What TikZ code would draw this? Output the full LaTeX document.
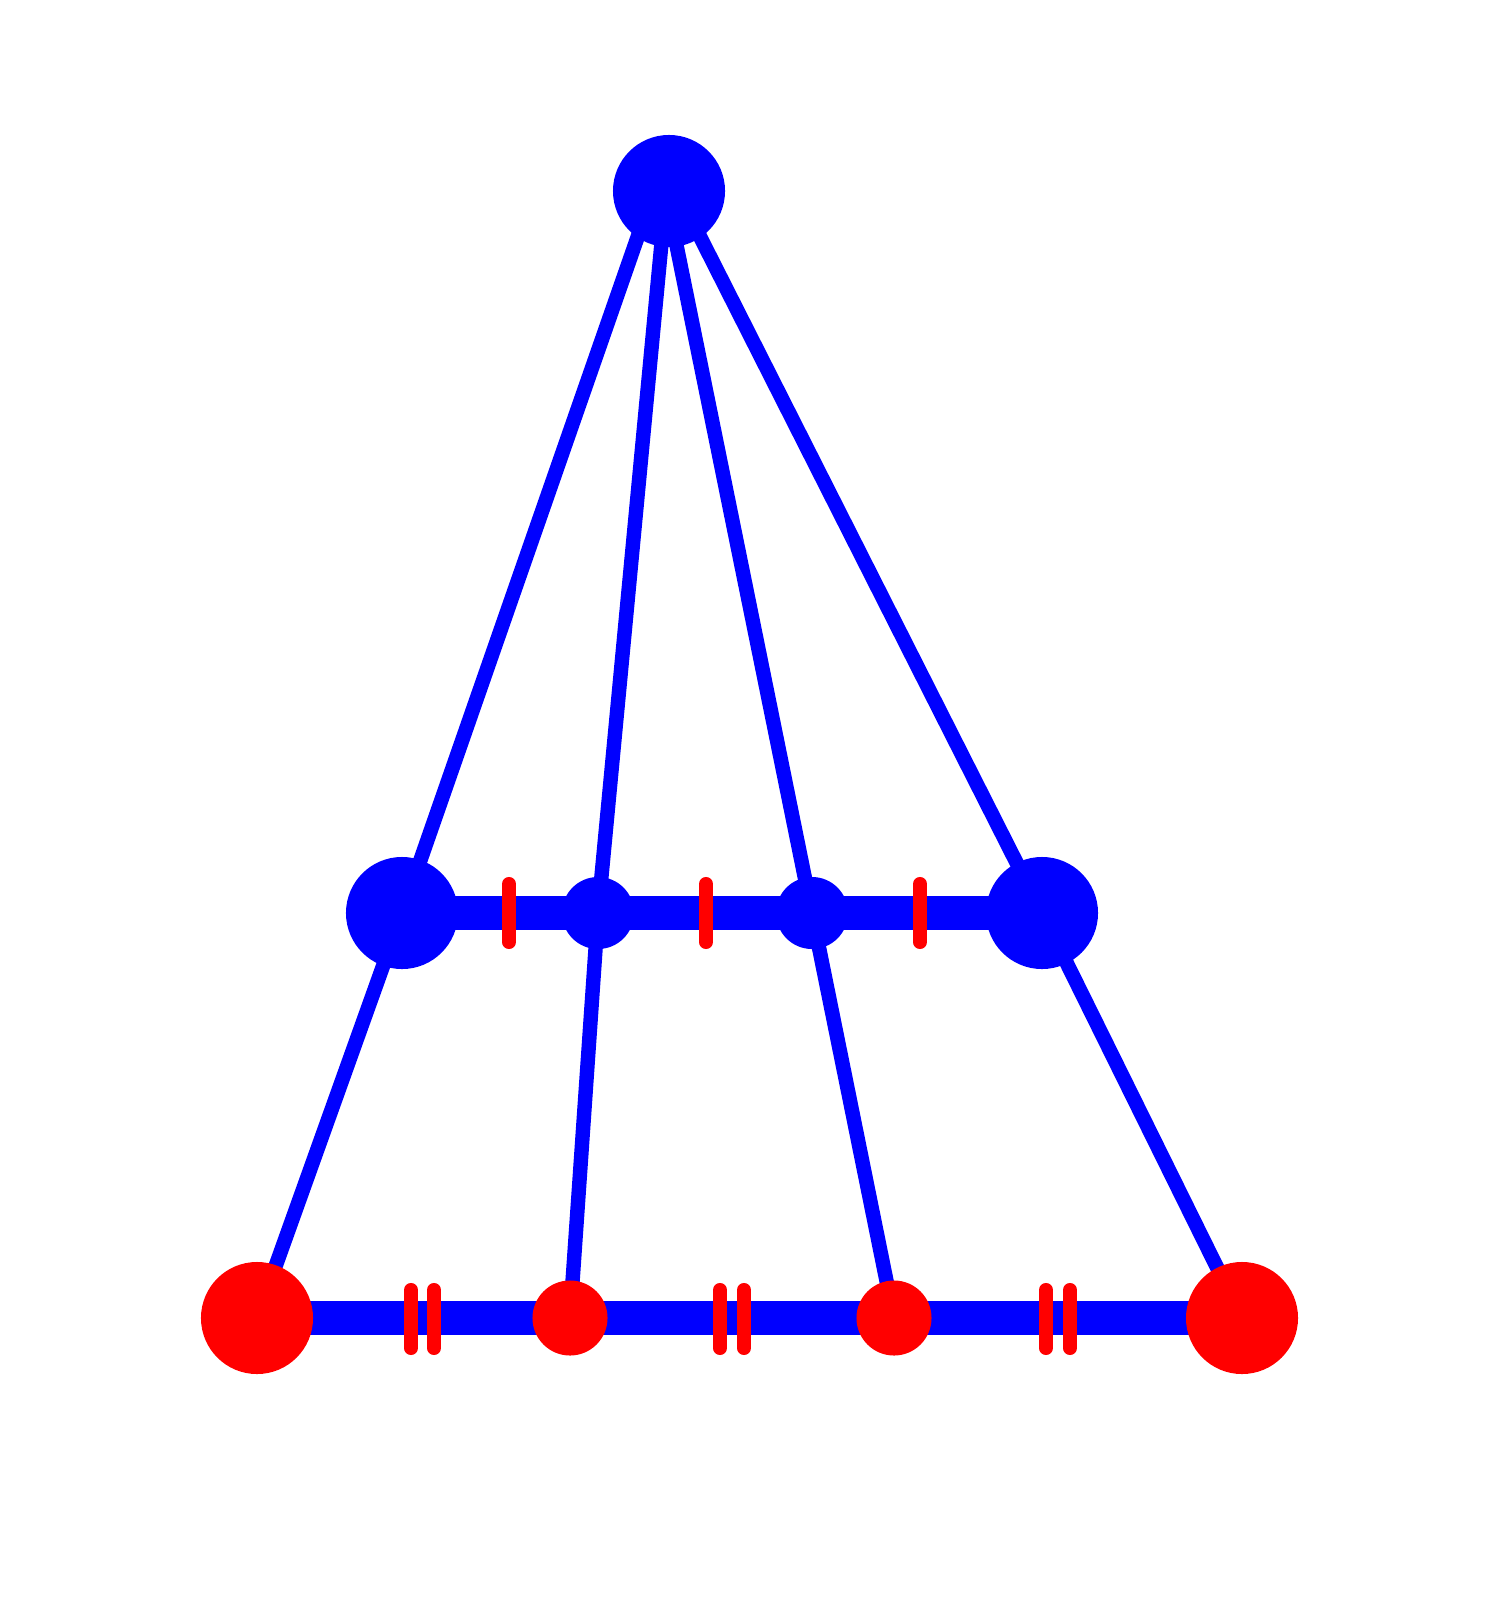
\documentclass[tikz,border=0pt]{standalone}
\usetikzlibrary{backgrounds}
\begin{document}
\begin{tikzpicture}[x=0.01cm,y=-0.01cm,
    bigdot/.style={circle,fill=blue,minimum size=1.12cm,inner sep=0pt},
    smalldot/.style={circle,fill=blue,minimum size=0.72cm,inner sep=0pt},
    reddot/.style={bigdot,fill=red},
    smallred/.style={circle,fill=red,minimum size=0.75cm,inner sep=0pt},
    rod/.style={draw=blue,line width=4.1pt},
    beam/.style={draw=blue,line width=9.8pt},
    tick/.style={draw=red,line width=4pt,line cap=round}]
    \useasboundingbox (0,0) rectangle (1500,1600);
    %% Apex
    \node[bigdot] (top) at (669,191) {};
    %% Middle row
    \node[bigdot]   (m1) at (402,913) {};
    \node[smalldot] (m2) at (598,913) {};
    \node[smalldot] (m3) at (812,913) {};
    \node[bigdot]   (m4) at (1042,913) {};
    %% Bottom row
    \node[reddot]   (b1) at (257,1318) {};
    \node[smallred] (b2) at (570,1318) {};
    \node[smallred] (b3) at (894,1318) {};
    \node[reddot]   (b4) at (1242,1318) {};
    %% Rods and beams
    \begin{scope}[on background layer]
        \foreach \i/\a in {1/-124,2/-98,3/-82,4/-56} {
            \draw[rod,shorten <=-12pt] (top.\a) -- (m\i.center);
            \draw[rod] (m\i.center) -- (b\i.center);
        }
        \draw[beam] (m1.center) -- (m4.center);
        \draw[beam] (b1.center) -- (b4.center);
    \end{scope}
    %% Marks on the middle beam
    \foreach \x in {509,706,920}
        \draw[tick] (\x,884) -- (\x,942);
    %% Marks on the bottom beam
    \foreach \x in {411,434,720,744,1046,1070}
        \draw[tick] (\x,1290) -- (\x,1348);
\end{tikzpicture}
\end{document}
